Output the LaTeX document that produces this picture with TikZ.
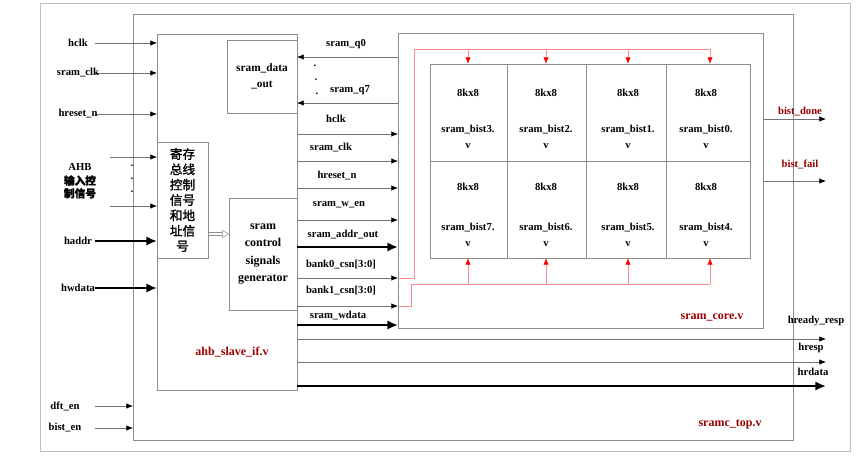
\documentclass[tikz,border=0pt]{standalone}
\usepackage{fontspec}
\setmainfont{Liberation Serif}
\newfontfamily\cjk[FakeBold=1.5]{Noto Sans CJK SC}
\usetikzlibrary{arrows.meta}
\begin{document}
\begin{tikzpicture}[x=0.75pt,y=-0.75pt,
  every node/.style={font=\fontsize{8}{9.5}\selectfont\bfseries,inner sep=0pt},
  box/.style={draw=black!45,line width=0.6pt},
  sig/.style={draw=black!55,line width=0.5pt,-{Latex[length=5pt,width=4pt,black]}},
  bus/.style={draw=black,line width=1.6pt,-{Latex[length=8pt,width=7pt]}},
  red/.style={draw=red!45,line width=0.6pt},
  redarr/.style={red,-{Latex[length=5pt,width=4pt,red]}},
  rlbl/.style={text=red!60!black}]
\useasboundingbox (0,0) rectangle (861,461);
\draw[draw=black!25] (40,3) rectangle (850,451);
\draw[box] (133,14) rectangle (793,440);
\node[box,minimum width=140*0.75pt,minimum height=356*0.75pt,anchor=north west] (ahb) at (157,34) {};
\node[box,minimum width=70*0.75pt,minimum height=73*0.75pt,anchor=north west] (dout) at (227,40) {};
\node[align=center,font=\fontsize{8.5}{10}\selectfont\bfseries] at (262,76) {sram\_data\\[2pt]\_out};
\node[box,minimum width=51*0.75pt,minimum height=116*0.75pt,anchor=north west] (reg) at (157,142) {};
\node[font=\cjk\fontsize{9.5}{11.5}\selectfont,align=center] at (182.5,200) {寄存\\总线\\控制\\信号\\和地\\址信\\号};
\node[box,minimum width=68*0.75pt,minimum height=112*0.75pt,anchor=north west] (ctl) at (229,198) {};
\node[align=center,font=\fontsize{9}{13}\selectfont\bfseries] at (263,254) {sram\\control\\signals\\generator};
\node[box,minimum width=365*0.75pt,minimum height=295*0.75pt,anchor=north west] (core) at (398,33) {};
\node[box,minimum width=320*0.75pt,minimum height=194*0.75pt,anchor=north west] (grid) at (430,64) {};
\foreach \x in {507,586,666} \draw[box] (\x,64) -- (\x,258);
\draw[box] (430,161) -- (750,161);
\foreach \x/\n in {468/3,546/2,628/1,706/0} {
  \node at (\x,93) {8kx8}; \node at (\x,130) {sram\_bist\n.}; \node at (\x,146) {v};}
\foreach \x/\n in {468/7,546/6,628/5,706/4} {
  \node at (\x,187) {8kx8}; \node at (\x,228) {sram\_bist\n.}; \node at (\x,244) {v};}
% left inputs
\coordinate (l1) at (95,43); \draw[sig] (l1) -- (157,43); \node at (78,43) {hclk};
\coordinate (l2) at (95,73); \draw[sig] (l2) -- (157,73); \node at (78,73) {sram\_clk};
\coordinate (l3) at (95,114); \draw[sig] (l3) -- (157,114); \node at (78,114) {hreset\_n};
\coordinate (l4) at (110,157); \draw[sig] (l4) -- (reg.west |- l4);
\coordinate (l5) at (110,206); \draw[sig] (l5) -- (reg.west |- l5);
\foreach \y in {166,179,192} \node at (132,\y) {.};
\node[align=center] at (80,181) {AHB\\[1pt]{\cjk\fontsize{8}{12}\selectfont 输入控}\\{\cjk\fontsize{8}{12}\selectfont 制信号}};
\coordinate (l6) at (95,241); \draw[bus] (l6) -- (reg.west |- l6); \node at (78,241) {haddr};
\coordinate (l7) at (95,288); \draw[bus] (l7) -- (157,288); \node at (78,288) {hwdata};
\coordinate (l8) at (95,406); \draw[sig] (l8) -- (133,406); \node at (65,406) {dft\_en};
\coordinate (l9) at (95,428); \draw[sig] (l9) -- (133,428); \node at (65,428) {bist\_en};
\draw[draw=black!45,-{Triangle[open,length=5pt,width=6pt]},double=white,double distance=2pt,line width=0.4pt] (reg.east |- 0,234) -- (ctl.west |- 0,234);
% middle
\draw[sig] (398,57) -- (297,57); \node at (346,44) {sram\_q0};
\draw[sig] (398,103) -- (297,103); \node at (350,90) {sram\_q7};
\node at (315,66) {.}; \node at (316,80) {.}; \node at (317,94) {.};
\foreach \y in {134,161,188,220} \draw[sig] (297,\y) -- (398,\y);
\node at (336,119) {hclk}; \node at (331,148) {sram\_clk}; \node at (337,176) {hreset\_n};
\node at (339,205) {sram\_w\_en};
\draw[bus] (297,247) -- (398,247); \node at (343,235) {sram\_addr\_out};
\draw[sig] (297,278) -- (398,278); \node at (341,265) {bank0\_csn[3:0]};
\draw[sig] (297,306) -- (398,306); \node at (341,291) {bank1\_csn[3:0]};
\draw[bus] (297,325) -- (398,325); \node at (338,316) {sram\_wdata};
% red
\draw[red] (398,278) -- (414,278) -- (414,49) -- (710,49);
\foreach \x in {468,546,628,710} \draw[redarr] (\x,49) -- (\x,64);
\draw[red] (398,306) -- (411,306) -- (411,284) -- (710,284);
\foreach \x in {468,546,628,710} \draw[redarr] (\x,284) -- (\x,258);
% outputs
\draw[sig] (763,181) -- (826,181); \node[rlbl] at (800,164) {bist\_fail};
\draw[sig] (763,119) -- (826,119); \node[rlbl] at (800,112) {bist\_done};
\draw[sig] (297,339) -- (826,339); \node at (816,321) {hready\_resp};
\draw[sig] (297,362) -- (826,362); \node at (811,348) {hresp};
\draw[bus] (297,386) -- (826,386); \node at (813,372) {hrdata};
\node[rlbl,font=\fontsize{9}{11}\selectfont\bfseries] at (232,352) {ahb\_slave\_if.v};
\node[rlbl,font=\fontsize{9}{11}\selectfont\bfseries] at (712,317) {sram\_core.v};
\node[rlbl,font=\fontsize{9}{11}\selectfont\bfseries] at (730,424) {sramc\_top.v};
\end{tikzpicture}
\end{document}
